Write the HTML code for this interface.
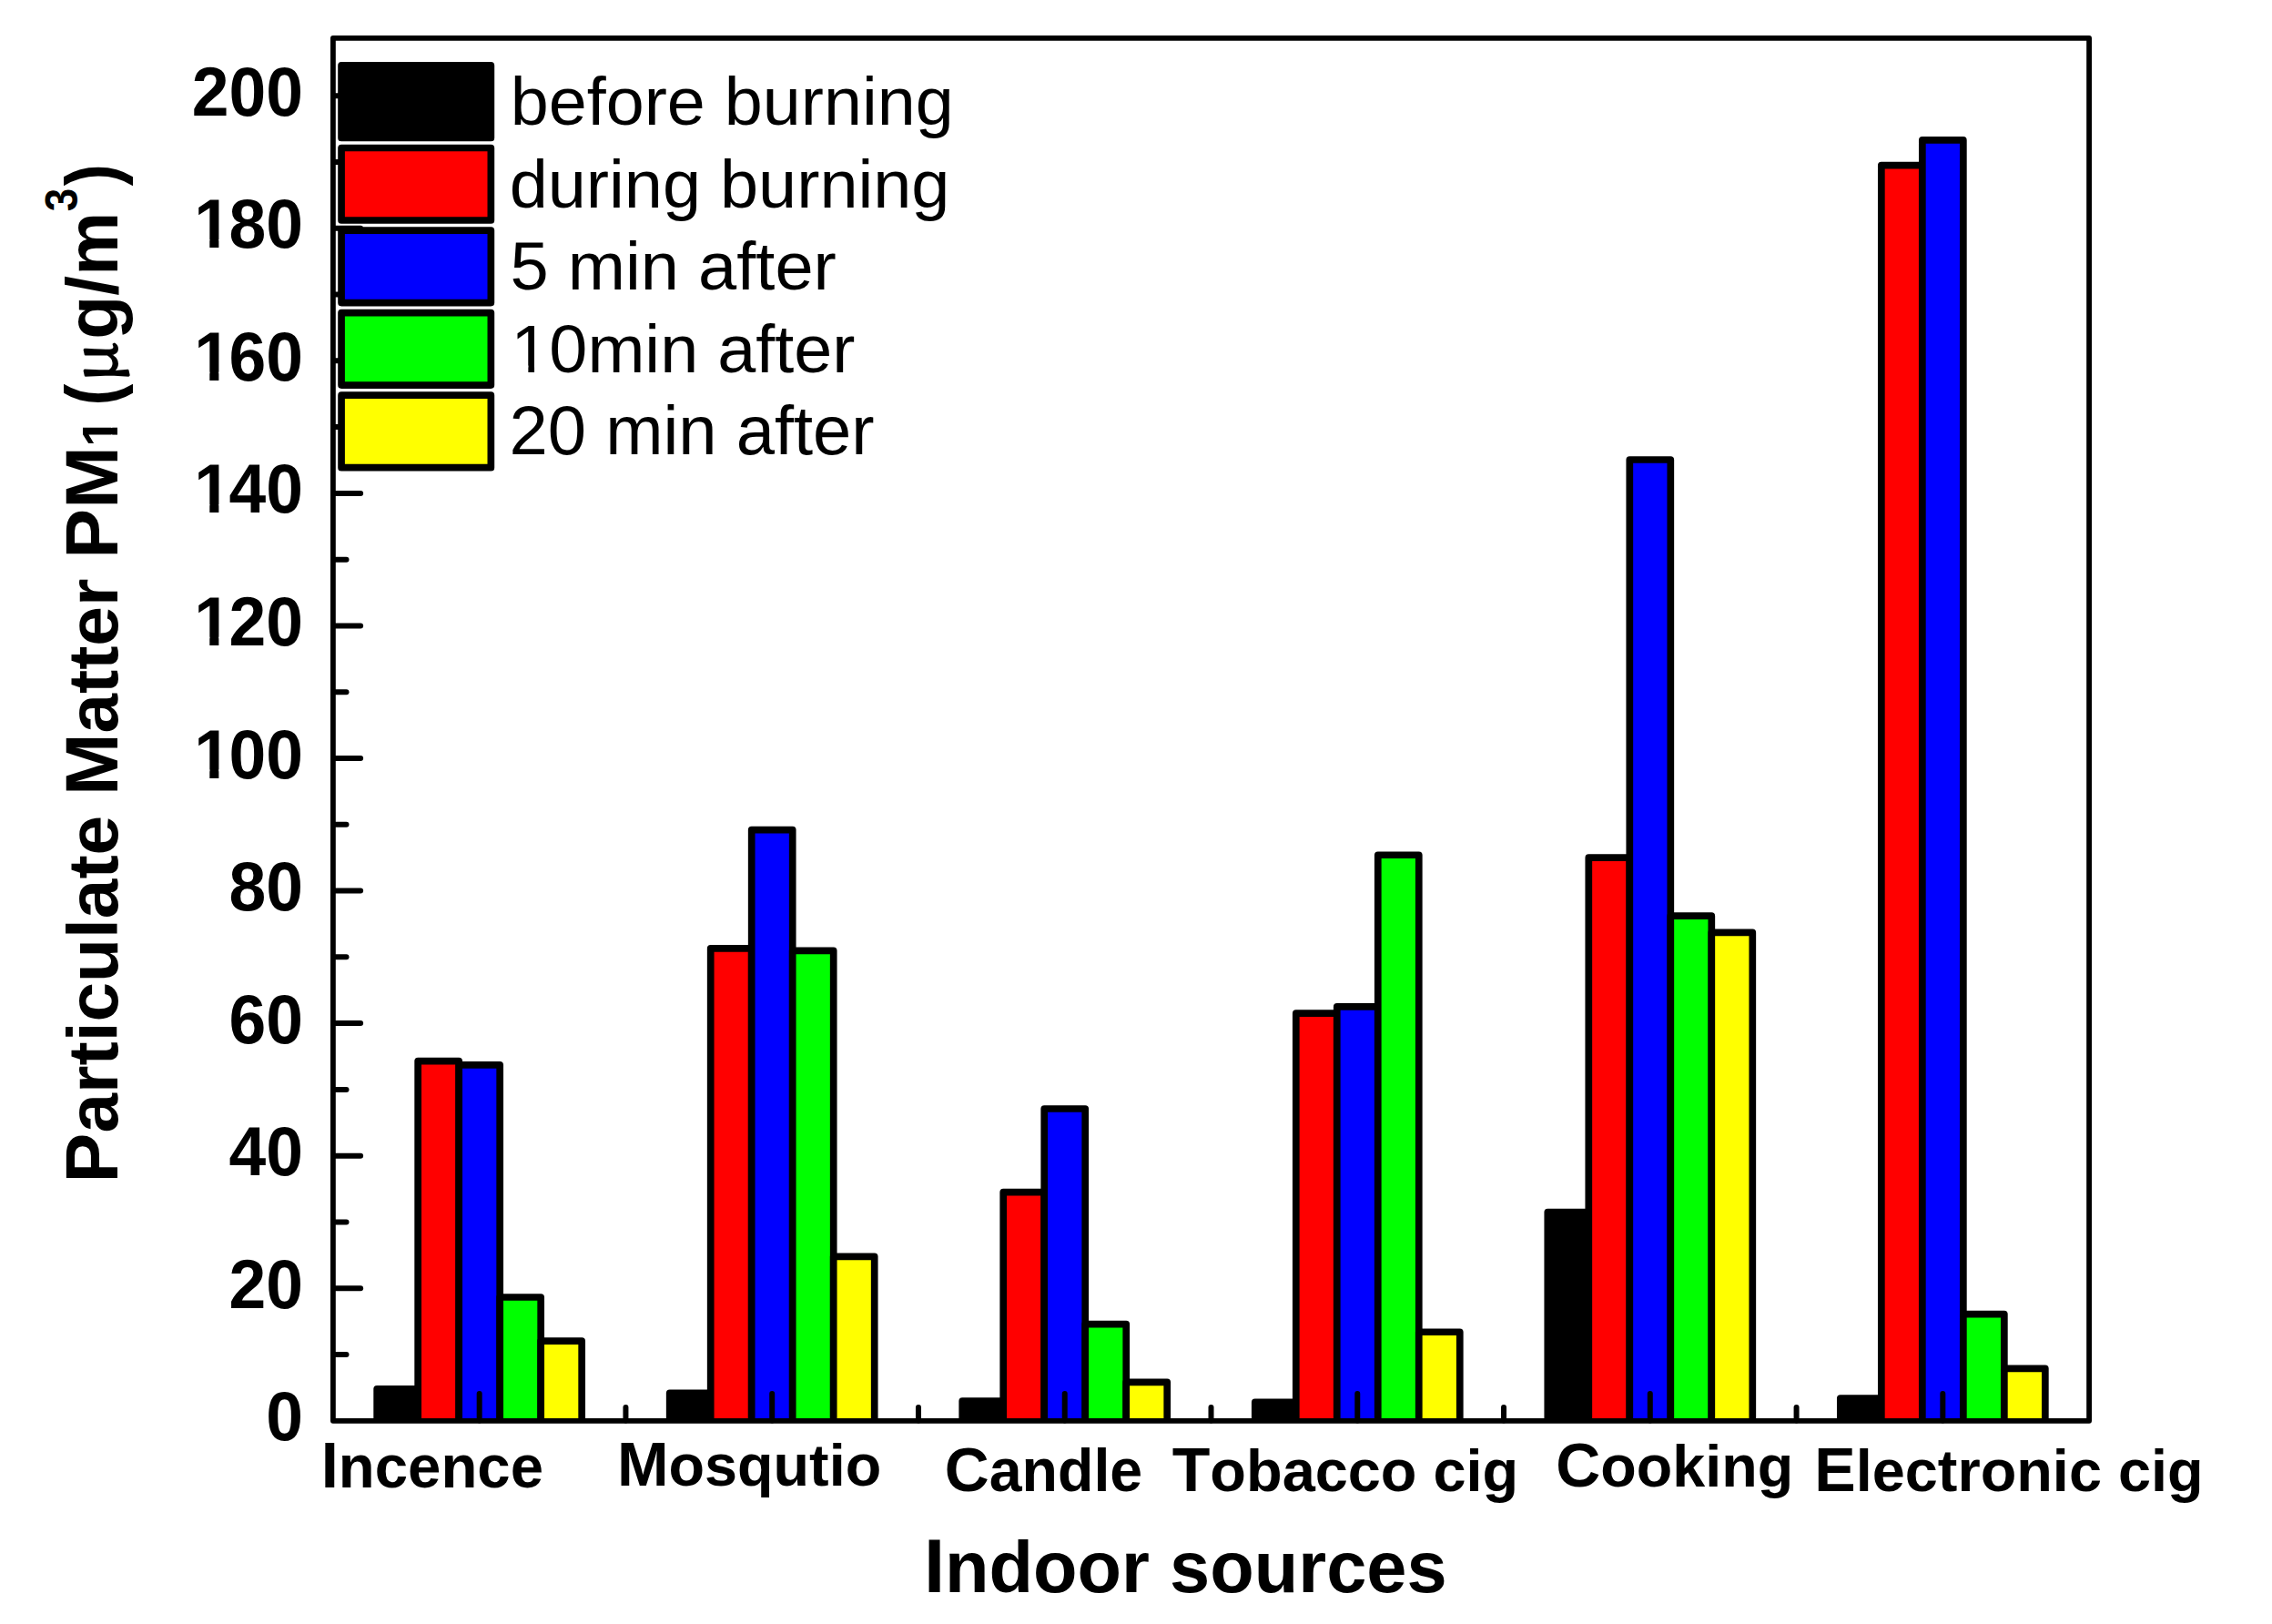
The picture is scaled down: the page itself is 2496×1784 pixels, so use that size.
<!DOCTYPE html>
<html lang="en">
<head>
<meta charset="utf-8">
<title>Particulate Matter PM1 by indoor sources</title>
<style>
html,body{margin:0;padding:0;background:#fff;}
body{width:2496px;height:1784px;overflow:hidden;}
svg{display:block;}
text{font-kerning:none;}
</style>
</head>
<body>
<svg width="2496" height="1784" viewBox="0 0 2496 1784">
<rect x="0" y="0" width="2496" height="1784" fill="#fff"/>
<g stroke="#000" stroke-width="7.7" stroke-linejoin="round">
<path d="M414.17,1560.8V1525.87H459.17V1560.8" fill="#000000"/>
<path d="M459.17,1560.8V1165.60H504.17V1560.8" fill="#FF0000"/>
<path d="M504.17,1560.8V1169.97H549.17V1560.8" fill="#0000FF"/>
<path d="M549.17,1560.8V1424.99H594.17V1560.8" fill="#00FF00"/>
<path d="M594.17,1560.8V1473.03H639.17V1560.8" fill="#FFFF00"/>
<path d="M735.70,1560.8V1530.23H780.70V1560.8" fill="#000000"/>
<path d="M780.70,1560.8V1041.88H825.70V1560.8" fill="#FF0000"/>
<path d="M825.70,1560.8V911.60H870.70V1560.8" fill="#0000FF"/>
<path d="M870.70,1560.8V1044.28H915.70V1560.8" fill="#00FF00"/>
<path d="M915.70,1560.8V1380.31H960.70V1560.8" fill="#FFFF00"/>
<path d="M1057.23,1560.8V1539.11H1102.23V1560.8" fill="#000000"/>
<path d="M1102.23,1560.8V1309.71H1147.23V1560.8" fill="#FF0000"/>
<path d="M1147.23,1560.8V1218.01H1192.23V1560.8" fill="#0000FF"/>
<path d="M1192.23,1560.8V1454.54H1237.23V1560.8" fill="#00FF00"/>
<path d="M1237.23,1560.8V1518.30H1282.23V1560.8" fill="#FFFF00"/>
<path d="M1378.77,1560.8V1540.42H1423.77V1560.8" fill="#000000"/>
<path d="M1423.77,1560.8V1113.20H1468.77V1560.8" fill="#FF0000"/>
<path d="M1468.77,1560.8V1105.92H1513.77V1560.8" fill="#0000FF"/>
<path d="M1513.77,1560.8V939.26H1558.77V1560.8" fill="#00FF00"/>
<path d="M1558.77,1560.8V1463.27H1603.77V1560.8" fill="#FFFF00"/>
<path d="M1700.30,1560.8V1331.54H1745.30V1560.8" fill="#000000"/>
<path d="M1745.30,1560.8V942.17H1790.30V1560.8" fill="#FF0000"/>
<path d="M1790.30,1560.8V504.98H1835.30V1560.8" fill="#0000FF"/>
<path d="M1835.30,1560.8V1006.22H1880.30V1560.8" fill="#00FF00"/>
<path d="M1880.30,1560.8V1024.41H1925.30V1560.8" fill="#FFFF00"/>
<path d="M2021.83,1560.8V1536.05H2066.83V1560.8" fill="#000000"/>
<path d="M2066.83,1560.8V181.62H2111.83V1560.8" fill="#FF0000"/>
<path d="M2111.83,1560.8V153.96H2156.83V1560.8" fill="#0000FF"/>
<path d="M2156.83,1560.8V1443.62H2201.83V1560.8" fill="#00FF00"/>
<path d="M2201.83,1560.8V1503.30H2246.83V1560.8" fill="#FFFF00"/>
</g>
<g stroke="#000" stroke-width="6.0" stroke-linecap="round" fill="none">
<line x1="366.9" y1="1488.02" x2="380.50" y2="1488.02"/>
<line x1="366.9" y1="1415.24" x2="396.10" y2="1415.24"/>
<line x1="366.9" y1="1342.46" x2="380.50" y2="1342.46"/>
<line x1="366.9" y1="1269.68" x2="396.10" y2="1269.68"/>
<line x1="366.9" y1="1196.90" x2="380.50" y2="1196.90"/>
<line x1="366.9" y1="1124.12" x2="396.10" y2="1124.12"/>
<line x1="366.9" y1="1051.34" x2="380.50" y2="1051.34"/>
<line x1="366.9" y1="978.56" x2="396.10" y2="978.56"/>
<line x1="366.9" y1="905.78" x2="380.50" y2="905.78"/>
<line x1="366.9" y1="833.00" x2="396.10" y2="833.00"/>
<line x1="366.9" y1="760.22" x2="380.50" y2="760.22"/>
<line x1="366.9" y1="687.44" x2="396.10" y2="687.44"/>
<line x1="366.9" y1="614.66" x2="380.50" y2="614.66"/>
<line x1="366.9" y1="541.88" x2="396.10" y2="541.88"/>
<line x1="366.9" y1="469.10" x2="380.50" y2="469.10"/>
<line x1="366.9" y1="396.32" x2="396.10" y2="396.32"/>
<line x1="366.9" y1="323.54" x2="380.50" y2="323.54"/>
<line x1="366.9" y1="250.76" x2="396.10" y2="250.76"/>
<line x1="366.9" y1="177.98" x2="380.50" y2="177.98"/>
<line x1="366.9" y1="105.20" x2="396.10" y2="105.20"/>
<line x1="526.67" y1="1560.6" x2="526.67" y2="1530.90"/>
<line x1="848.20" y1="1560.6" x2="848.20" y2="1530.90"/>
<line x1="687.43" y1="1560.6" x2="687.43" y2="1546.10"/>
<line x1="1169.73" y1="1560.6" x2="1169.73" y2="1530.90"/>
<line x1="1008.97" y1="1560.6" x2="1008.97" y2="1546.10"/>
<line x1="1491.27" y1="1560.6" x2="1491.27" y2="1530.90"/>
<line x1="1330.50" y1="1560.6" x2="1330.50" y2="1546.10"/>
<line x1="1812.80" y1="1560.6" x2="1812.80" y2="1530.90"/>
<line x1="1652.03" y1="1560.6" x2="1652.03" y2="1546.10"/>
<line x1="2134.33" y1="1560.6" x2="2134.33" y2="1530.90"/>
<line x1="1973.57" y1="1560.6" x2="1973.57" y2="1546.10"/>
</g>
<rect x="365.9" y="41.9" width="1929.20" height="1518.90" fill="none" stroke="#000" stroke-width="5.8" stroke-linejoin="round"/>
<g transform="translate(292.18,1582.32) scale(1.0017,1.0415)"><text font-family="'Liberation Sans', sans-serif" font-size="73.1" font-weight="bold" fill="#000">0</text></g>
<g transform="translate(251.45,1436.76) scale(1.0017,1.0415)"><text font-family="'Liberation Sans', sans-serif" font-size="73.1" font-weight="bold" fill="#000">20</text></g>
<g transform="translate(251.45,1291.20) scale(1.0017,1.0415)"><text font-family="'Liberation Sans', sans-serif" font-size="73.1" font-weight="bold" fill="#000">40</text></g>
<g transform="translate(251.45,1145.64) scale(1.0017,1.0415)"><text font-family="'Liberation Sans', sans-serif" font-size="73.1" font-weight="bold" fill="#000">60</text></g>
<g transform="translate(251.45,1000.08) scale(1.0017,1.0415)"><text font-family="'Liberation Sans', sans-serif" font-size="73.1" font-weight="bold" fill="#000">80</text></g>
<g transform="translate(210.73,854.52) scale(1.0017,1.0415)"><text font-family="'Liberation Sans', sans-serif" font-size="73.1" font-weight="bold" fill="#000" dx="2.49 -2.49">100</text><rect x="5.775" y="-8.918" width="13.772" height="10.380" fill="#fff"/><rect x="29.576" y="-8.918" width="12.749" height="10.380" fill="#fff"/></g>
<g transform="translate(210.73,708.96) scale(1.0017,1.0415)"><text font-family="'Liberation Sans', sans-serif" font-size="73.1" font-weight="bold" fill="#000" dx="2.49 -2.49">120</text><rect x="5.775" y="-8.918" width="13.772" height="10.380" fill="#fff"/><rect x="29.576" y="-8.918" width="12.749" height="10.380" fill="#fff"/></g>
<g transform="translate(210.73,563.40) scale(1.0017,1.0415)"><text font-family="'Liberation Sans', sans-serif" font-size="73.1" font-weight="bold" fill="#000" dx="2.49 -2.49">140</text><rect x="5.775" y="-8.918" width="13.772" height="10.380" fill="#fff"/><rect x="29.576" y="-8.918" width="12.749" height="10.380" fill="#fff"/></g>
<g transform="translate(210.73,417.84) scale(1.0017,1.0415)"><text font-family="'Liberation Sans', sans-serif" font-size="73.1" font-weight="bold" fill="#000" dx="2.49 -2.49">160</text><rect x="5.775" y="-8.918" width="13.772" height="10.380" fill="#fff"/><rect x="29.576" y="-8.918" width="12.749" height="10.380" fill="#fff"/></g>
<g transform="translate(210.73,272.28) scale(1.0017,1.0415)"><text font-family="'Liberation Sans', sans-serif" font-size="73.1" font-weight="bold" fill="#000" dx="2.49 -2.49">180</text><rect x="5.775" y="-8.918" width="13.772" height="10.380" fill="#fff"/><rect x="29.576" y="-8.918" width="12.749" height="10.380" fill="#fff"/></g>
<g transform="translate(210.73,126.72) scale(1.0017,1.0415)"><text font-family="'Liberation Sans', sans-serif" font-size="73.1" font-weight="bold" fill="#000">200</text></g>
<g stroke="#000" stroke-width="7.7" stroke-linejoin="round">
<rect x="375.05" y="71.95" width="164.30" height="79.5" fill="#000000"/>
<rect x="375.05" y="162.50" width="164.30" height="79.5" fill="#FF0000"/>
<rect x="375.05" y="253.05" width="164.30" height="79.5" fill="#0000FF"/>
<rect x="375.05" y="343.60" width="164.30" height="79.5" fill="#00FF00"/>
<rect x="375.05" y="434.15" width="164.30" height="79.5" fill="#FFFF00"/>
</g>
<g transform="translate(560.80,136.85) scale(1.0000,0.9745)"><text font-family="'Liberation Sans', sans-serif" font-size="75.5" font-weight="normal" fill="#000">before burning</text></g>
<g transform="translate(559.64,228.12) scale(1.0023,0.9702)"><text font-family="'Liberation Sans', sans-serif" font-size="75.5" font-weight="normal" fill="#000">during burning</text></g>
<g transform="translate(560.59,318.26) scale(1.0045,0.9892)"><text font-family="'Liberation Sans', sans-serif" font-size="75.5" font-weight="normal" fill="#000">5 min after</text></g>
<g transform="translate(561.34,408.56) scale(1.0012,0.9892)"><text font-family="'Liberation Sans', sans-serif" font-size="75.5" font-weight="normal" fill="#000">10min after</text><rect x="4.530" y="-7.097" width="14.458" height="8.607" fill="#fff"/><rect x="25.662" y="-7.097" width="13.975" height="8.607" fill="#fff"/></g>
<g transform="translate(559.53,499.45) scale(1.0065,0.9982)"><text font-family="'Liberation Sans', sans-serif" font-size="75.5" font-weight="normal" fill="#000">20 min after</text></g>
<g transform="translate(352.67,1633.89) scale(1.0061,1.0253)"><text font-family="'Liberation Sans', sans-serif" font-size="65" font-weight="bold" fill="#000"><tspan font-size="68.25">I</tspan>ncence</text></g>
<g transform="translate(677.92,1632.46) scale(0.9958,0.9959)"><text font-family="'Liberation Sans', sans-serif" font-size="65" font-weight="bold" fill="#000"><tspan font-size="68.25">M</tspan>osqutio</text></g>
<g transform="translate(1037.77,1638.24) scale(0.9930,1.0165)"><text font-family="'Liberation Sans', sans-serif" font-size="65" font-weight="bold" fill="#000"><tspan font-size="68.25">C</tspan>andle</text></g>
<g transform="translate(1287.75,1637.57) scale(0.9983,0.9984)"><text font-family="'Liberation Sans', sans-serif" font-size="65" font-weight="bold" fill="#000"><tspan font-size="68.25">T</tspan>obacco cig</text></g>
<g transform="translate(1709.26,1632.76) scale(0.9947,1.0065)"><text font-family="'Liberation Sans', sans-serif" font-size="65" font-weight="bold" fill="#000"><tspan font-size="68.25">C</tspan>ooking</text></g>
<g transform="translate(1993.31,1638.00) scale(0.9976,1.0033)"><text font-family="'Liberation Sans', sans-serif" font-size="65" font-weight="bold" fill="#000"><tspan font-size="68.25">E</tspan>lectronic cig</text></g>
<g transform="translate(1014.91,1749.25) scale(0.9976,0.9949)"><text font-family="'Liberation Sans', sans-serif" font-size="79.6" font-weight="bold" fill="#000"><tspan font-size="83.58">I</tspan>ndoor sources</text></g>
<text transform="rotate(-90)" font-family="'Liberation Sans', sans-serif" font-weight="bold" font-size="78.6" fill="#000"><tspan x="-1299.49" y="128.95" font-size="78.12" textLength="809.24" lengthAdjust="spacingAndGlyphs"><tspan font-size="82.03">P</tspan>articulate <tspan font-size="82.03">M</tspan>atter <tspan font-size="82.03">PM</tspan></tspan><tspan x="-490.95" y="128.80" font-size="55.76" textLength="31.88" lengthAdjust="spacingAndGlyphs">1</tspan> <tspan x="-445.42" y="129.42" font-size="80.69" textLength="23.69" lengthAdjust="spacingAndGlyphs">(</tspan><tspan x="-419.40" y="128.30" font-size="66.00" textLength="43.27" lengthAdjust="spacingAndGlyphs" font-family="'Noto Serif CJK SC', 'Liberation Serif', serif" font-weight="normal" stroke="#000" stroke-width="2" stroke-linejoin="round">µ</tspan><tspan x="-372.65" y="128.77" font-size="79.93" textLength="139.73" lengthAdjust="spacingAndGlyphs">g/m</tspan><tspan x="-232.19" y="85.48" font-size="49.84" textLength="25.52" lengthAdjust="spacingAndGlyphs">3</tspan><tspan x="-204.28" y="129.42" font-size="80.69" textLength="23.99" lengthAdjust="spacingAndGlyphs">)</tspan></text>
<g transform="rotate(-90)"><g transform="translate(-490.95,128.80) scale(1.0812,1.0521)"><rect x="2.385" y="-6.466" width="9.985" height="7.526" fill="#fff"/><rect x="19.642" y="-6.466" width="9.243" height="7.526" fill="#fff"/></g></g>
</svg>
</body>
</html>
